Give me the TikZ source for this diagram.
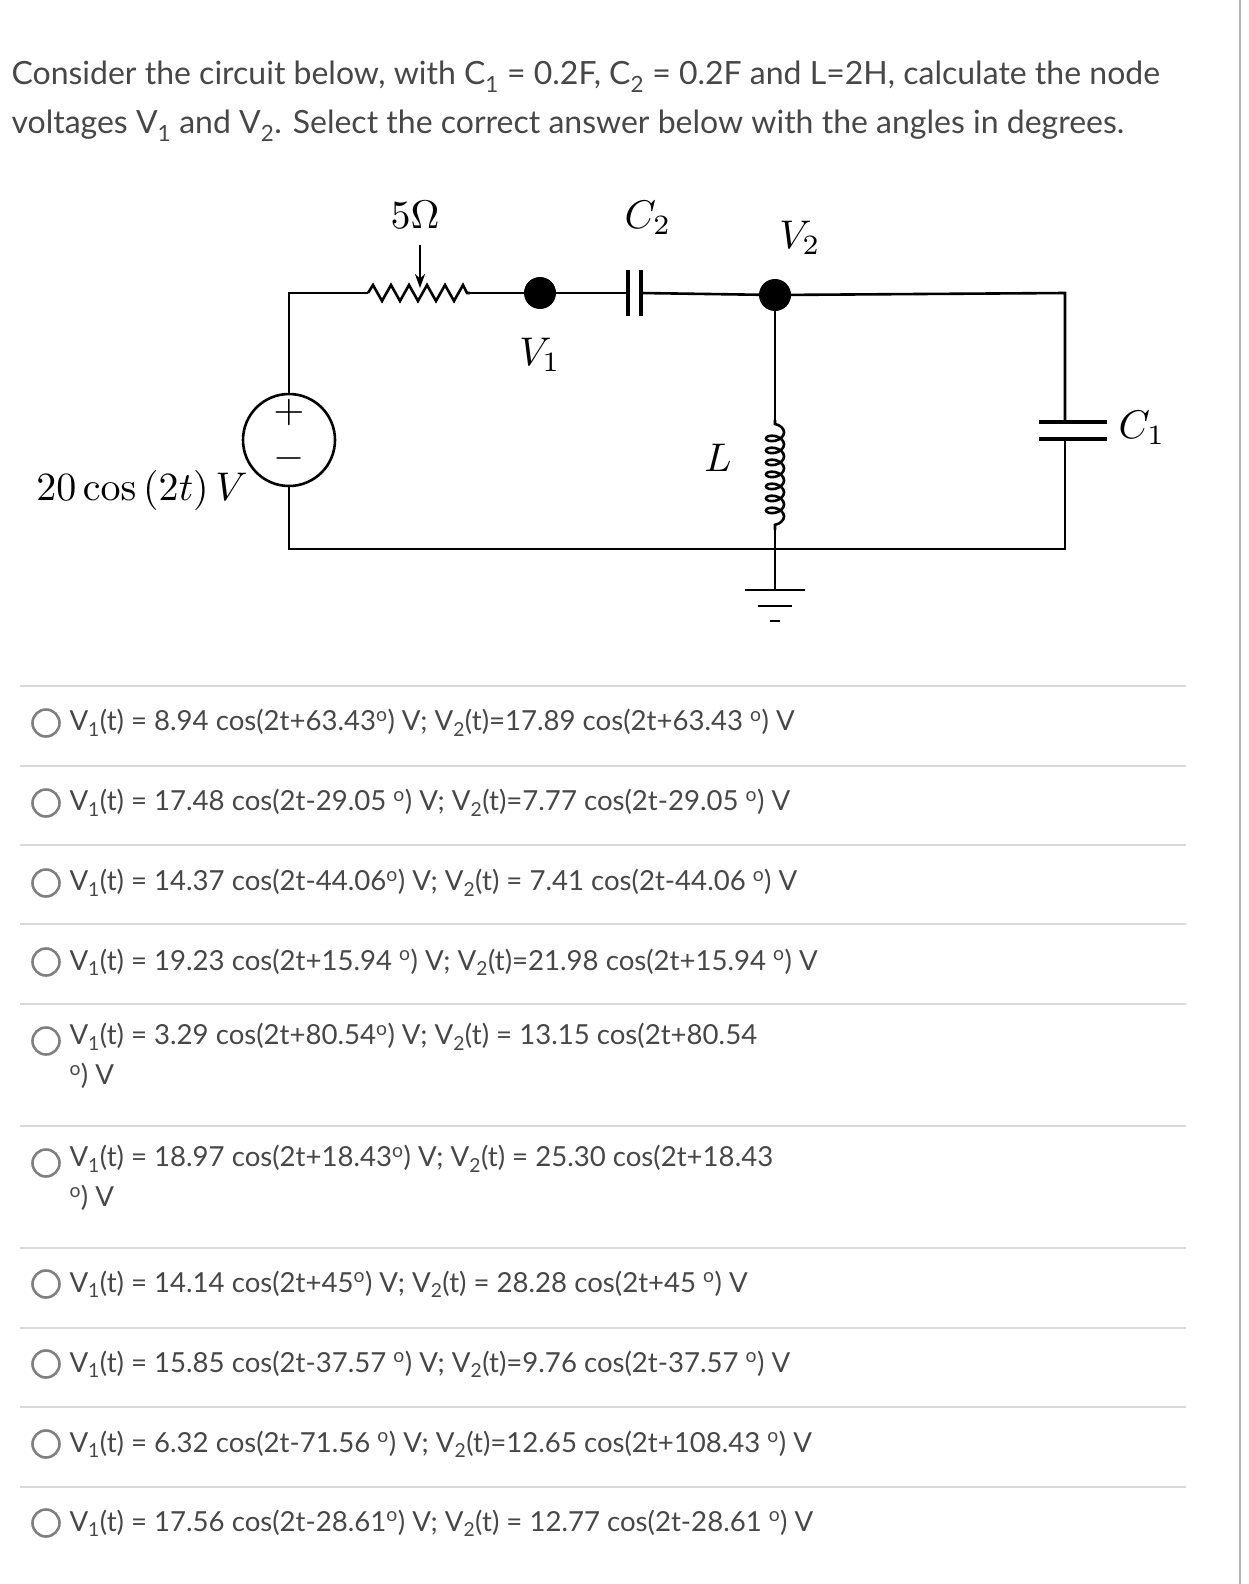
\documentclass[tikz,border=0pt]{standalone}
\usepackage[no-math]{fontspec}
\usepackage{graphicx}
\setmainfont{Lato}
\usetikzlibrary{decorations.pathmorphing,arrows.meta}
\newcommand{\dg}{\textsuperscript{o})}
\newcommand{\cktlbl}[1]{\scalebox{4.0}{$#1$}}
\begin{document}
\begin{tikzpicture}[x=1pt,y=-1pt,
  wire/.style={line width=2.6pt},
  plate/.style={line width=4.5pt},
  dot/.style={circle,fill=black,minimum width=28pt,minimum height=32pt,inner sep=0pt},
  lbl/.style={inner sep=0pt},
  q/.style={anchor=west,font=\fontsize{32}{38}\selectfont,text=black!72},
  opt/.style={anchor=west,font=\fontsize{27.6}{40}\selectfont,text=black!72,align=left},
  radio/.style={circle,draw=black!50,line width=2.6pt,minimum size=27pt,inner sep=0pt},
  sep/.style={draw=black!15,line width=1.5pt}]
\useasboundingbox (0,0) rectangle (1248,1584);
\draw[black!30,line width=2pt] (1240,0) -- (1240,1584);
\node[q] (q1) at (8,77) {Consider the circuit below, with C\textsubscript{1} = 0.2F, C\textsubscript{2} = 0.2F and L=2H, calculate the node};
\node[q] (q2) at (8,126) {voltages V\textsubscript{1} and V\textsubscript{2}. Select the correct answer below with the angles in degrees.};
% circuit
\coordinate (tl) at (289,293);
\coordinate (bl) at (289,549);
\coordinate (tr) at (1065,293);
\coordinate (br) at (1065,549);
\node[circle,draw,line width=2.6pt,minimum width=88pt,minimum height=92pt,inner sep=0pt] (src) at (289,440) {};
\node[lbl] at (289,412) {\cktlbl{+}};
\node[lbl] at (289,458) {\cktlbl{-}};
\node[lbl] (srcl) at (142,490) {\cktlbl{20\cos\left(2t\right)V}};
\coordinate (r1) at (368,293);
\coordinate (r2) at (470,293);
\node[dot] (v1) at (540,293) {};
\node[dot] (v2) at (775,295) {};
\coordinate (c2a) at (628,293);
\coordinate (c2b) at (641,293);
\coordinate (l1) at (775,420);
\coordinate (l2) at (775,530);
\coordinate (g) at (775,590);
\coordinate (c1a) at (1065,422);
\coordinate (c1b) at (1065,439);
\draw[wire] (src.north) -- (tl) -- (r1);
\draw[wire] (src.south) -- (bl) -- (br) -- (c1b);
\draw[wire] (r1) -- ++(5,-8) -- ++(9,16) -- ++(9,-16) -- ++(9,16) -- ++(9,-16) -- ++(9,16) -- ++(9,-16) -- ++(9,16) -- ++(9,-16) -- ++(9,16) -- ++(9,-16) -- ++(4,8) -- (r2);
\draw[wire] (r2) -- (v1) -- (c2a);
\draw[wire] (c2b) -- (v2) -- (tr) -- (c1a);
\draw[plate] (628,270) -- (628,316);
\draw[plate] (641,270) -- (641,316);
\draw[plate] (1039,422) -- (1107,422);
\draw[plate] (1039,439) -- (1107,439);
\draw[wire,-{Stealth[length=14pt,width=10pt]}] (420,245) -- (420,288);
\draw[wire] (v2) -- (l1);
\draw[wire,decorate,decoration={coil,amplitude=9pt,segment length=12pt,aspect=0.6,pre length=4pt,post length=4pt}] (l1) -- (l2);
\draw[wire] (l2) -- (g);
\draw[wire] (745,590) -- (805,590);
\draw[wire] (758,606) -- (792,606);
\draw[wire] (770,621) -- (780,621);
\node[lbl] at (415,215) {\cktlbl{5\Omega}};
\node[lbl] at (648,218) {\cktlbl{C_2}};
\node[lbl] at (800,238) {\cktlbl{V_2}};
\node[lbl] at (540,355) {\cktlbl{V_1}};
\node[lbl] at (718,458) {\cktlbl{L}};
\node[lbl] at (1142,428) {\cktlbl{C_1}};
% options
\foreach \y in {686,766,845,924,1004,1126,1248,1328,1407,1487}
  \draw[sep] (20,\y) -- (1186,\y);
\foreach \n/\y in {a/723,b/803,c/883,d/962,e/1041,f/1163,g/1284,h/1364,i/1444,j/1523}
  \node[radio] (r\n) at (46,\y) {};
\node[opt] at (66,723) {V\textsubscript{1}(t) = 8.94 cos(2t+63.43\dg{} V; V\textsubscript{2}(t)=17.89 cos(2t+63.43 \dg{} V};
\node[opt] at (66,803) {V\textsubscript{1}(t) = 17.48 cos(2t-29.05 \dg{} V; V\textsubscript{2}(t)=7.77 cos(2t-29.05 \dg{} V};
\node[opt] at (66,883) {V\textsubscript{1}(t) = 14.37 cos(2t-44.06\dg{} V; V\textsubscript{2}(t) = 7.41 cos(2t-44.06 \dg{} V};
\node[opt] at (66,962) {V\textsubscript{1}(t) = 19.23 cos(2t+15.94 \dg{} V; V\textsubscript{2}(t)=21.98 cos(2t+15.94 \dg{} V};
\node[opt,anchor=north west] at (66,1020) {V\textsubscript{1}(t) = 3.29 cos(2t+80.54\dg{} V; V\textsubscript{2}(t) = 13.15 cos(2t+80.54\\ \dg{} V};
\node[opt,anchor=north west] at (66,1142) {V\textsubscript{1}(t) = 18.97 cos(2t+18.43\dg{} V; V\textsubscript{2}(t) = 25.30 cos(2t+18.43\\ \dg{} V};
\node[opt] at (66,1284) {V\textsubscript{1}(t) = 14.14 cos(2t+45\dg{} V; V\textsubscript{2}(t) = 28.28 cos(2t+45 \dg{} V};
\node[opt] at (66,1364) {V\textsubscript{1}(t) = 15.85 cos(2t-37.57 \dg{} V; V\textsubscript{2}(t)=9.76 cos(2t-37.57 \dg{} V};
\node[opt] at (66,1444) {V\textsubscript{1}(t) = 6.32 cos(2t-71.56 \dg{} V; V\textsubscript{2}(t)=12.65 cos(2t+108.43 \dg{} V};
\node[opt] at (66,1523) {V\textsubscript{1}(t) = 17.56 cos(2t-28.61\dg{} V; V\textsubscript{2}(t) = 12.77 cos(2t-28.61 \dg{} V};
\end{tikzpicture}
\end{document}
